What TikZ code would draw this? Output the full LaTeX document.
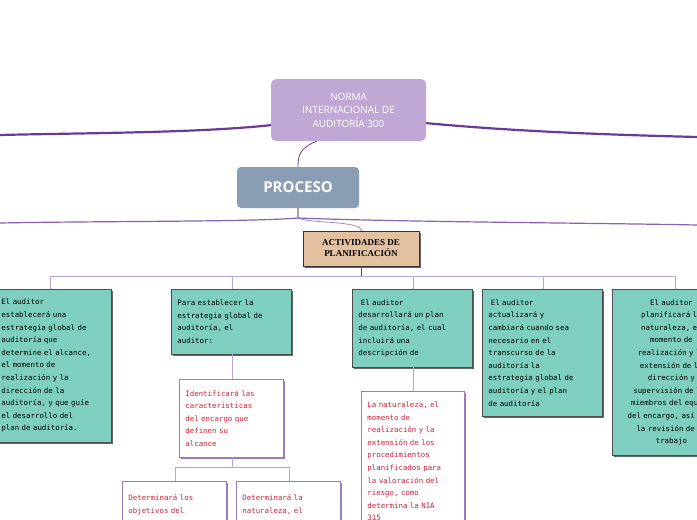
\documentclass[tikz,border=0pt]{standalone}
\usepackage{fontspec}
\usetikzlibrary{shadows}
\setmainfont{Open Sans}
\newfontfamily\pix{DejaVu Sans Mono}
\newfontfamily\serifb{Liberation Serif}
\definecolor{lil}{HTML}{C0A8D4}
\definecolor{slate}{HTML}{8A9DB5}
\definecolor{peach}{HTML}{E3C0A0}
\definecolor{teal}{HTML}{7ECFC0}
\definecolor{pl}{HTML}{6A3A9A}
\definecolor{pb}{HTML}{9B7BBF}
\definecolor{redt}{HTML}{D0203A}
\begin{document}
\begin{tikzpicture}[x=1pt,y=-1pt,
 tbox/.style={draw=black!70,fill=teal,line width=0.8pt,anchor=north west,align=left,inner sep=6pt,font=\pix\fontsize{7.4}{12.6}\selectfont,drop shadow={shadow xshift=1.5pt,shadow yshift=-1.5pt,fill=black!60,opacity=1}},
 wbox/.style={draw=pb,fill=white,line width=0.8pt,anchor=north west,align=left,inner sep=6pt,text=redt,font=\pix\fontsize{7.4}{12.6}\selectfont,drop shadow={shadow xshift=1.2pt,shadow yshift=-1.2pt,fill=pb,opacity=1}},
 link/.style={draw=pb!70,line width=0.7pt}]
\useasboundingbox (0,0) rectangle (697,520);
% main branches
\draw[pl,line width=2.2pt] (272,125) .. controls (200,133) and (80,133) .. (0,135);
\draw[pl,line width=2.2pt] (425,123) .. controls (520,132) and (620,135) .. (697,137);
\draw[pl!80,line width=1.2pt] (298,208) -- (298,218) .. controls (250,222) and (100,221) .. (0,223);
\draw[pl!80,line width=1.2pt] (298,218) .. controls (400,222) and (600,223) .. (697,225);
\draw[pl!60,line width=0.8pt] (298,218) .. controls (310,224) and (360,220) .. (362,231);
\draw[pl,line width=0.8pt] (317,141) .. controls (300,148) and (298,155) .. (298,167);
\node[fill=lil,rounded corners=5pt,minimum width=155pt,minimum height=62pt,align=center,text=white,font=\fontsize{10}{13.5}\selectfont] (norma) at (348.5,110) {NORMA\\INTERNACIONAL DE\\AUDITORÍA 300};
\node[fill=slate,rounded corners=4pt,minimum width=122pt,minimum height=41pt,text=white,font=\bfseries\fontsize{15}{17}\selectfont] (proc) at (298,187.5) {PROCESO};
\node[fill=peach,draw=black!80,line width=0.8pt,minimum width=116pt,minimum height=35pt,align=center,font=\serifb\bfseries\fontsize{9}{11}\selectfont,drop shadow={shadow xshift=1.5pt,shadow yshift=-1.5pt,fill=black!60,opacity=1}] (act) at (361,248.5) {ACTIVIDADES DE\\PLANIFICACIÓN};
% tree
\draw[pl,line width=1pt] (act.south) -- (361,276);
\draw[link] (50,276) -- (675,276);
\foreach \x in {50,232,413,543,675}{\draw[link] (\x,276) -- (\x,289);}
\node[tbox,text width=104pt,minimum height=153pt] (b1) at (-5,289) {El auditor\\establecerá una\\estrategia global de\\auditoría que\\determine el alcance,\\el momento de\\realización y la\\dirección de la\\auditoría, y que guíe\\el desarrollo del\\plan de auditoría.};
\node[tbox,text width=108pt,minimum height=65pt] (b2) at (171,289) {Para establecer la\\estrategia global de\\auditoría, el\\auditor:};
\node[tbox,text width=108pt,minimum height=78pt] (b3) at (352,289) {\ El auditor\\desarrollará un plan\\de auditoría, el cual\\incluirá una\\descripción de};
\node[tbox,text width=108pt,minimum height=127pt] (b4) at (482,289) {\ El auditor\\actualizará y\\cambiará cuando sea\\necesario en el\\transcurso de la\\auditoría la\\estrategia global de\\auditoría y el plan\\de auditoría};
\node[tbox,text width=106pt,minimum height=166pt,align=center] (b5) at (612,289) {El auditor\\planificará la\\naturaleza, el\\momento de\\realización y la\\extensión de la\\dirección y\\supervisión de los\\miembros del equipo\\del encargo, así como\\la revisión de su\\trabajo};
\draw[link] (232,354) -- (232,379);
\node[wbox,text width=92pt,minimum height=78pt] (w1) at (179,379) {Identificará las\\características\\del encargo que\\definen su\\alcance};
\draw[link] (232,457) -- (232,467) (175,467) -- (289,467) (175,467) -- (175,481) (289,467) -- (289,481);
\node[wbox,text width=92pt,minimum height=60pt] (w2) at (122,481) {Determinará los\\objetivos del\\encargo en};
\node[wbox,text width=92pt,minimum height=60pt] (w3) at (236,481) {Determinará la\\naturaleza, el\\momento de emplear};
\draw[link] (413,367) -- (413,391);
\node[wbox,text width=91pt,minimum height=140pt] (w4) at (361,391) {La naturaleza, el\\momento de\\realización y la\\extensión de los\\procedimientos\\planificados para\\la valoración del\\riesgo, como\\determina la NIA\\315};
\end{tikzpicture}
\end{document}
